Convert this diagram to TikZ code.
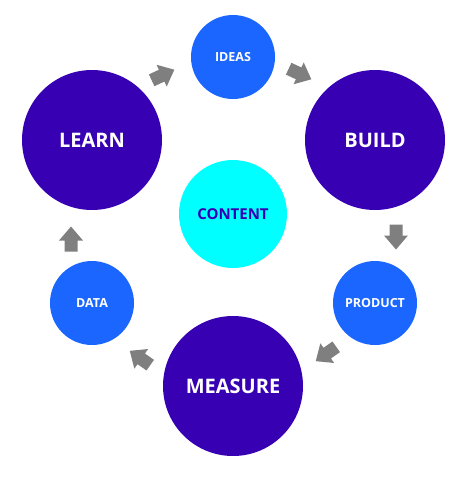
\documentclass[tikz,border=0pt]{standalone}
\usepackage{fontspec}
\setmainfont{Open Sans}
\usetikzlibrary{positioning}

\definecolor{deeppurple}{HTML}{3700B3}
\definecolor{brightblue}{HTML}{1A66FF}
\definecolor{aqua}{HTML}{00FFFF}
\definecolor{arrowgray}{HTML}{7F7F7F}

\tikzset{
  stage/.style={circle, fill=deeppurple, text=white, minimum size=140pt, inner sep=0pt, font=\bfseries\fontsize{20}{24}\selectfont},
  step circle/.style={circle, fill=brightblue, text=white, minimum size=84pt, inner sep=0pt, font=\bfseries\fontsize{12.5}{15}\selectfont},
  hub/.style={circle, fill=aqua, text=deeppurple, minimum size=108pt, inner sep=0pt, font=\bfseries\fontsize{15}{18}\selectfont},
  blockarrow/.pic={
    \fill[arrowgray] (-12.5,-6.5) -- (-1.5,-6.5) -- (-1.5,-12) -- (12.5,0)
      -- (-1.5,12) -- (-1.5,6.5) -- (-12.5,6.5) -- cycle;
  }
}

\begin{document}
\begin{tikzpicture}[x=1pt, y=-1pt]
  \useasboundingbox (0,0) rectangle (470,477);

  % the loop
  \node[step circle] (ideas)   at (233,57)  {IDEAS};
  \node[stage]       (build)   at (375,140) {BUILD};
  \node[step circle] (product) at (375,303) {PRODUCT};
  \node[stage]       (measure) at (233,386) {MEASURE};
  \node[step circle] (data)    at (92,303)  {DATA};
  \node[stage]       (learn)   at (92,140)  {LEARN};

  % middle
  \node[hub] (content) at (233,214) {CONTENT};

  % arrows between the stages
  \pic[rotate=25]   at (163,75)  {blockarrow};
  \pic[rotate=-25]  at (300,74)  {blockarrow};
  \pic[rotate=-90]  at (396,237) {blockarrow};
  \pic[rotate=-145] at (326,354) {blockarrow};
  \pic[rotate=145]  at (140,358) {blockarrow};
  \pic[rotate=90]   at (71,239)  {blockarrow};
\end{tikzpicture}
\end{document}
